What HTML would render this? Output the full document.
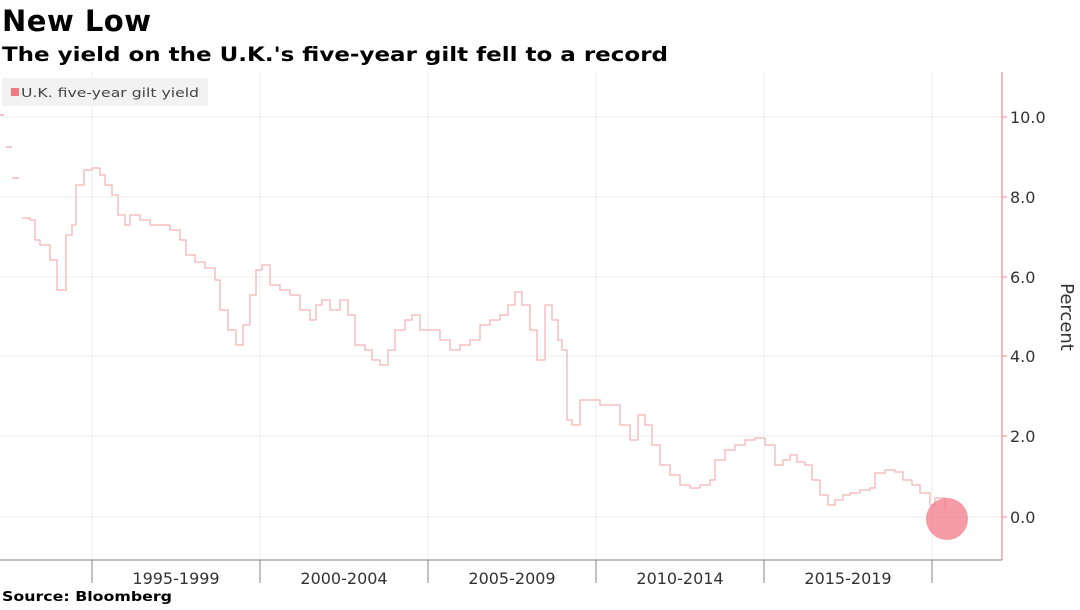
<!DOCTYPE html>
<html><head><meta charset="utf-8"><style>
body{margin:0;background:#fff;width:1080px;height:606px;overflow:hidden;font-family:"DejaVu Sans",sans-serif}
</style></head><body>
<svg width="1080" height="606" xmlns="http://www.w3.org/2000/svg" font-family="DejaVu Sans, sans-serif">
<text x="2" y="31" font-size="29" font-weight="bold" fill="#000" letter-spacing="0.5">New Low</text>
<text x="2" y="61" font-size="19.5" font-weight="bold" fill="#000" textLength="666" lengthAdjust="spacingAndGlyphs">The yield on the U.K.'s five-year gilt fell to a record</text>
<g stroke="#ececec" stroke-width="1">
<line x1="0" y1="117" x2="1002" y2="117"/><line x1="0" y1="197" x2="1002" y2="197"/><line x1="0" y1="277" x2="1002" y2="277"/><line x1="0" y1="356" x2="1002" y2="356"/><line x1="0" y1="436" x2="1002" y2="436"/><line x1="0" y1="517" x2="1002" y2="517"/>
<line x1="92" y1="72" x2="92" y2="560"/><line x1="260" y1="72" x2="260" y2="560"/><line x1="428" y1="72" x2="428" y2="560"/><line x1="596" y1="72" x2="596" y2="560"/><line x1="764" y1="72" x2="764" y2="560"/><line x1="932" y1="72" x2="932" y2="560"/>
</g>
<rect x="2" y="78" width="206" height="28" fill="#f2f2f2"/>
<rect x="11" y="88" width="8" height="8" fill="#f07a80"/>
<text x="21" y="97" font-size="12" fill="#444" textLength="178" lengthAdjust="spacingAndGlyphs">U.K. five-year gilt yield</text>
<line x1="1002" y1="72" x2="1002" y2="560" stroke="#f3a0a6" stroke-width="1.5"/>
<line x1="0" y1="560" x2="1002" y2="560" stroke="#999" stroke-width="1.2"/>
<g stroke="#999" stroke-width="1.2">
<line x1="92" y1="560" x2="92" y2="583"/><line x1="260" y1="560" x2="260" y2="583"/><line x1="428" y1="560" x2="428" y2="583"/><line x1="596" y1="560" x2="596" y2="583"/><line x1="764" y1="560" x2="764" y2="583"/><line x1="932" y1="560" x2="932" y2="583"/>
</g>
<g font-size="16" fill="#333" text-anchor="middle">
<text x="176" y="584">1995-1999</text><text x="344" y="584">2000-2004</text><text x="512" y="584">2005-2009</text><text x="680" y="584">2010-2014</text><text x="848" y="584">2015-2019</text>
</g>
<g font-size="16" fill="#333">
<text x="1010" y="123">10.0</text><text x="1010" y="203">8.0</text><text x="1010" y="283">6.0</text><text x="1010" y="362">4.0</text><text x="1010" y="442">2.0</text><text x="1010" y="523">0.0</text>
</g>
<g stroke="#f3a0a6" stroke-width="1.2"><line x1="1002" y1="117" x2="1007" y2="117"/><line x1="1002" y1="197" x2="1007" y2="197"/><line x1="1002" y1="277" x2="1007" y2="277"/><line x1="1002" y1="356" x2="1007" y2="356"/><line x1="1002" y1="436" x2="1007" y2="436"/><line x1="1002" y1="517" x2="1007" y2="517"/></g>
<text x="0" y="0" font-size="18" fill="#333" transform="translate(1061,317) rotate(90)" text-anchor="middle">Percent</text>
<text x="2" y="601" font-size="13" font-weight="bold" fill="#000" textLength="170" lengthAdjust="spacingAndGlyphs">Source: Bloomberg</text>
<g stroke="#f2a8ad" stroke-width="1.3"><line x1="0" y1="115" x2="4" y2="115"/><line x1="6" y1="147" x2="12" y2="147"/><line x1="12" y1="178" x2="19" y2="178"/></g>
<path fill="none" stroke="#f4b4b8" stroke-width="1.3" d="M22 218 H30 V220 H35 V240 H40 V245 H50 V260 H57 V290 H62 V290 H66 V235 H72 V225 H76 V185 H84 V170 H92 V168 H100 V175 H105 V185 H112 V195 H118 V215 H125 V225 H130 V215 H140 V220 H150 V225 H160 V225 H170 V230 H180 V240 H186 V255 H195 V262 H205 V268 H215 V280 H220 V310 H228 V330 H236 V345 H243 V325 H250 V295 H256 V270 H262 V265 H270 V285 H280 V290 H290 V295 H300 V310 H310 V320 H316 V305 H322 V300 H330 V310 H340 V300 H348 V315 H355 V345 H365 V350 H372 V360 H380 V365 H388 V350 H395 V330 H405 V320 H412 V315 H420 V330 H430 V330 H440 V340 H450 V350 H460 V345 H470 V340 H480 V325 H490 V320 H500 V315 H508 V305 H515 V292 H522 V305 H530 V330 H537 V360 H545 V305 H552 V320 H558 V340 H562 V350 H567 V420 H572 V425 H580 V400 H590 V400 H600 V405 H610 V405 H620 V425 H630 V440 H638 V415 H645 V425 H652 V445 H660 V465 H670 V475 H680 V485 H690 V488 H700 V485 H710 V480 H715 V460 H725 V450 H735 V445 H745 V440 H755 V438 H765 V445 H775 V465 H783 V460 H790 V455 H797 V462 H805 V465 H812 V480 H820 V495 H828 V505 H835 V500 H843 V495 H850 V493 H860 V490 H870 V488 H875 V473 H885 V470 H895 V472 H903 V480 H912 V485 H920 V493 H930 V505 H935 V498 H945 V510"/>
<circle cx="947" cy="519" r="21" fill="#f27a88" fill-opacity="0.75"/>
</svg>
</body></html>
